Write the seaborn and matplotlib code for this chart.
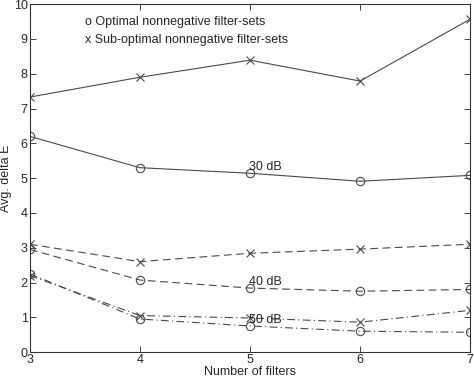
import numpy as np
import pandas as pd
import matplotlib
matplotlib.use("Agg")
import matplotlib.pyplot as plt
import seaborn as sns

filters = [3, 4, 5, 6, 7]

# valori
opt_30 = [6.2, 5.3, 5.14, 4.91, 5.08]
sub_30 = [7.33, 7.9, 8.39, 7.79, 9.57]
opt_40 = [2.95, 2.07, 1.84, 1.75, 1.8]
sub_40 = [3.1, 2.6, 2.84, 2.96, 3.1]
opt_50 = [2.25, 0.95, 0.75, 0.6, 0.57]
sub_50 = [2.2, 1.05, 0.98, 0.86, 1.2]

sns.set_style("ticks")
plt.rcParams["font.family"] = ["Liberation Sans", "DejaVu Sans"]

fig = plt.figure(figsize=(4.74, 3.79), dpi=100)
ax = fig.add_axes([0.063, 0.071, 0.929, 0.918])

colore = "#4a4a4a"
serie = [
    (opt_30, "o", "-"), (sub_30, "x", "-"),
    (opt_40, "o", (0, (7, 4))), (sub_40, "x", (0, (7, 4))),
    (opt_50, "o", (0, (7, 3, 1, 3))), (sub_50, "x", (0, (7, 3, 1, 3))),
]
for valori, marker, stile in serie:
    df = pd.DataFrame({"Filtri": filters, "DeltaE": valori})
    sns.lineplot(data=df, x="Filtri", y="DeltaE", ax=ax, color=colore,
                 linewidth=0.8, linestyle=stile, marker=marker,
                 markersize=6, markerfacecolor="none", markeredgecolor=colore,
                 markeredgewidth=0.8)

ax.set_xlim(3, 7)
ax.set_ylim(0, 10)
ax.set_xticks(filters)
ax.set_yticks(range(0, 11))
ax.tick_params(direction="in", top=True, right=True, labelsize=9, length=4,
               width=0.6, pad=1.5)
for s in ax.spines.values():
    s.set_linewidth(0.8)
    s.set_color("#333333")
ax.set_xlabel("Number of filters", fontsize=9, labelpad=0)
ax.set_ylabel("Avg. delta E", fontsize=9, labelpad=1)

ax.text(3.5, 9.48, "o Optimal nonnegative filter-sets", fontsize=9, va="center")
ax.text(3.5, 8.97, "x Sub-optimal nonnegative filter-sets", fontsize=9, va="center")
ax.text(4.99, 5.32, "30 dB", fontsize=9, va="center")
ax.text(4.99, 2.01, "40 dB", fontsize=9, va="center")
ax.text(4.99, 0.92, "50 dB", fontsize=9, va="center")

fig.savefig("out.png", dpi=100)
